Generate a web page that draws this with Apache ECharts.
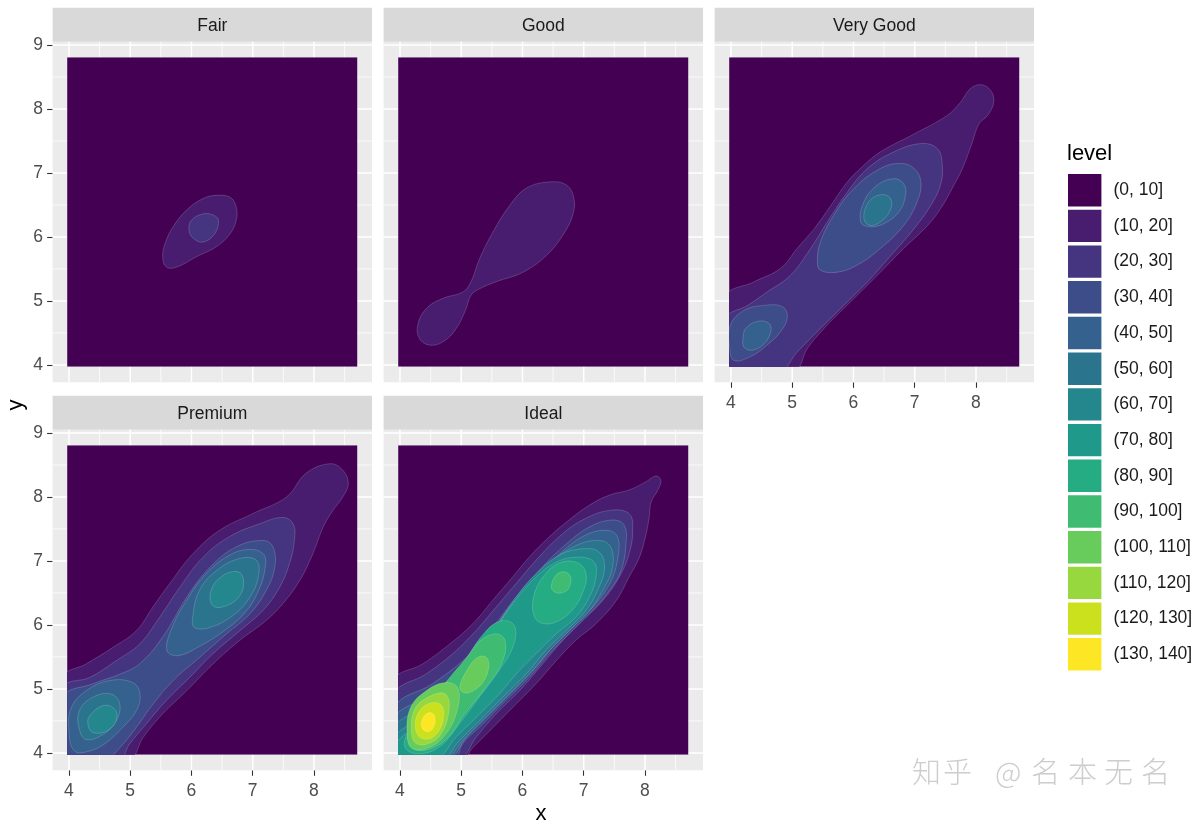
<!DOCTYPE html>
<html><head><meta charset="utf-8">
<script src="https://cdn.jsdelivr.net/npm/echarts@6/dist/echarts.min.js"></script>
<style>html,body{margin:0;padding:0;background:#fff}#chart{width:1200px;height:825px}</style>
</head><body><div id="chart"></div>
<script>
// ---------- data ----------
const levelNames = ['(0, 10]','(10, 20]','(20, 30]','(30, 40]','(40, 50]','(50, 60]','(60, 70]','(70, 80]','(80, 90]','(90, 100]','(100, 110]','(110, 120]','(120, 130]','(130, 140]'];
const levelColors = ['#440154','#481C6E','#453581','#3D4D8A','#34618D','#2B748E','#24878E','#1F998A','#25AC82','#40BC72','#67CC5C','#97D83F','#CBE11E','#FDE725'];
const facetNames = ['Fair','Good','Very Good','Premium','Ideal'];
const xMajor = [4,5,6,7,8];
const xMinor = [4.5,5.5,6.5,7.5,8.5];
const yMajor = [4,5,6,7,8,9];
const yMinor = [4.5,5.5,6.5,7.5,8.5];
const xRange = [3.733, 8.947];
const yRange = [3.728, 9.052];
const densityRect = [[3.97,3.97],[8.71,3.97],[8.71,8.81],[3.97,8.81]];
const watermarkChars = ['知','乎','@','名','本','无','名'];

const fairContours = [
 {level:0, points:densityRect},
 {level:1, points:[[6.63,6.62],[6.73,6.47],[6.73,6.26],[6.63,6.05],[6.41,5.85],[6.08,5.69],[5.76,5.53],[5.59,5.53],[5.53,5.69],[5.57,5.90],[5.70,6.16],[5.92,6.42],[6.19,6.60],[6.41,6.65]]},
 {level:2, points:[[6.44,6.26],[6.38,6.05],[6.19,5.92],[6.03,5.98],[5.96,6.10],[6.00,6.26],[6.19,6.36],[6.36,6.34]]}
];
const goodContours = [
 {level:0, points:densityRect},
 {level:1, points:[[6.44,6.86],[6.72,6.81],[6.84,6.60],[6.82,6.34],[6.66,6.03],[6.39,5.71],[6.01,5.45],[5.57,5.30],[5.30,5.19],[5.16,5.09],[5.08,4.88],[4.92,4.57],[4.70,4.36],[4.48,4.31],[4.32,4.41],[4.29,4.62],[4.43,4.88],[4.70,5.04],[5.03,5.14],[5.16,5.30],[5.30,5.66],[5.52,6.08],[5.79,6.49],[6.06,6.76]]}
];
const veryGoodContours = [
 {level:0, points:densityRect},
 {level:1, points:[[3.9,5.06],[4.38,5.30],[4.81,5.51],[5.08,5.82],[5.36,6.13],[5.63,6.49],[5.90,6.86],[6.17,7.12],[6.44,7.33],[6.99,7.61],[7.53,7.90],[7.75,8.11],[7.91,8.32],[8.08,8.38],[8.24,8.29],[8.29,8.11],[8.19,7.90],[8.05,7.77],[7.94,7.48],[7.78,7.07],[7.64,6.81],[7.42,6.44],[7.21,6.18],[6.82,5.82],[6.44,5.45],[6.17,5.19],[5.84,4.88],[5.52,4.57],[5.25,4.26],[5.03,3.9],[3.6,3.6]]},
 {level:2, points:[[3.9,4.72],[4.27,4.93],[4.59,5.14],[4.97,5.40],[5.30,5.82],[5.57,6.23],[5.90,6.70],[6.23,7.07],[6.66,7.33],[7.10,7.46],[7.37,7.38],[7.45,7.12],[7.42,6.81],[7.26,6.49],[6.99,6.13],[6.61,5.71],[6.23,5.30],[5.84,4.93],[5.46,4.57],[5.08,4.20],[4.81,3.9],[3.6,3.6]]},
 {level:3, points:[[3.99,4.62],[4.21,4.85],[4.54,4.93],[4.84,4.91],[4.92,4.75],[4.81,4.52],[4.59,4.31],[4.32,4.13],[4.05,4.07],[3.98,4.26]]},
 {level:3, points:[[5.41,5.61],[5.46,5.92],[5.68,6.34],[6.01,6.76],[6.44,7.07],[6.77,7.15],[6.99,7.07],[7.10,6.86],[7.04,6.55],[6.82,6.18],[6.44,5.82],[6.06,5.56],[5.74,5.45],[5.46,5.48]]},
 {level:4, points:[[4.24,4.57],[4.43,4.68],[4.62,4.65],[4.65,4.52],[4.54,4.33],[4.35,4.23],[4.21,4.28],[4.20,4.44]]},
 {level:4, points:[[6.12,6.23],[6.17,6.55],[6.39,6.81],[6.66,6.91],[6.82,6.83],[6.85,6.65],[6.74,6.39],[6.50,6.21],[6.28,6.16]]},
 {level:5, points:[[6.17,6.29],[6.25,6.55],[6.44,6.66],[6.60,6.61],[6.61,6.44],[6.47,6.26],[6.28,6.18]]}
];
const premiumContours = [
 {level:0, points:densityRect},
 {level:1, points:[[3.9,5.18],[4.28,5.39],[4.72,5.65],[5.10,5.91],[5.37,6.28],[5.64,6.64],[6.02,7.11],[6.46,7.48],[7.00,7.74],[7.55,8.00],[7.87,8.37],[8.26,8.52],[8.47,8.42],[8.56,8.21],[8.47,8.00],[8.31,7.79],[8.15,7.53],[7.98,7.11],[7.77,6.70],[7.49,6.33],[7.22,6.07],[6.79,5.76],[6.35,5.39],[5.92,4.97],[5.53,4.61],[5.21,4.24],[4.99,3.9],[3.6,3.6]]},
 {level:2, points:[[3.9,5.02],[4.34,5.18],[4.77,5.44],[5.15,5.70],[5.48,6.12],[5.81,6.59],[6.19,7.06],[6.62,7.38],[7.11,7.58],[7.49,7.68],[7.66,7.58],[7.68,7.32],[7.60,6.96],[7.44,6.59],[7.17,6.23],[6.79,5.91],[6.35,5.55],[5.97,5.18],[5.59,4.82],[5.26,4.45],[4.99,4.14],[4.83,3.9],[3.6,3.6]]},
 {level:3, points:[[3.9,4.87],[4.39,5.08],[4.83,5.23],[5.15,5.39],[5.53,5.81],[5.92,6.43],[6.30,6.90],[6.73,7.22],[7.17,7.32],[7.33,7.22],[7.36,6.90],[7.22,6.54],[6.95,6.17],[6.57,5.86],[6.13,5.49],[5.70,5.13],[5.37,4.76],[5.10,4.40],[4.83,4.08],[4.61,3.9],[3.6,3.6]]},
 {level:4, points:[[4.04,4.71],[4.28,4.97],[4.66,5.13],[5.04,5.10],[5.16,4.92],[5.10,4.66],[4.88,4.40],[4.61,4.16],[4.34,4.03],[4.09,4.03],[4.00,4.34]]},
 {level:4, points:[[5.60,5.60],[5.68,5.95],[5.92,6.38],[6.22,6.78],[6.60,7.08],[6.95,7.18],[7.18,7.10],[7.20,6.88],[7.10,6.55],[6.88,6.20],[6.52,5.90],[6.12,5.66],[5.78,5.52]]},
 {level:5, points:[[4.17,4.66],[4.39,4.87],[4.69,4.92],[4.83,4.76],[4.77,4.50],[4.56,4.29],[4.28,4.21],[4.17,4.37]]},
 {level:5, points:[[6.02,6.12],[6.13,6.54],[6.41,6.85],[6.79,7.04],[7.06,7.01],[7.09,6.75],[6.95,6.43],[6.68,6.15],[6.30,5.96],[6.05,5.96]]},
 {level:6, points:[[4.34,4.58],[4.56,4.74],[4.75,4.68],[4.77,4.50],[4.61,4.34],[4.39,4.32],[4.31,4.45]]},
 {level:6, points:[[6.32,6.54],[6.51,6.77],[6.76,6.83],[6.85,6.70],[6.79,6.46],[6.57,6.30],[6.35,6.30]]}
];
const idealContours = [
 {level:0, points:densityRect},
 {level:1, points:[[3.9,5.13],[4.37,5.39],[4.81,5.70],[5.19,6.02],[5.51,6.38],[5.84,6.75],[6.11,7.06],[6.44,7.38],[6.76,7.64],[7.09,7.87],[7.42,8.03],[7.74,8.11],[8.02,8.24],[8.18,8.33],[8.26,8.26],[8.21,8.11],[8.10,7.92],[8.07,7.69],[8.02,7.43],[7.91,7.06],[7.74,6.75],[7.53,6.38],[7.20,6.02],[6.87,5.76],[6.55,5.44],[6.22,5.08],[5.84,4.71],[5.46,4.34],[5.19,4.08],[5.02,3.9],[3.6,3.6]]},
 {level:2, points:[[3.9,4.92],[4.42,5.23],[4.86,5.55],[5.24,5.91],[5.57,6.28],[5.89,6.64],[6.22,7.01],[6.60,7.38],[6.98,7.64],[7.42,7.79],[7.74,7.74],[7.80,7.48],[7.74,7.11],[7.58,6.75],[7.31,6.38],[6.98,6.07],[6.66,5.76],[6.33,5.39],[5.95,4.97],[5.57,4.61],[5.24,4.24],[4.97,3.9],[3.6,3.6]]},
 {level:3, points:[[3.9,4.71],[4.53,5.08],[5.08,5.49],[5.51,5.96],[5.89,6.43],[6.27,6.85],[6.66,7.22],[7.09,7.53],[7.47,7.64],[7.66,7.56],[7.69,7.27],[7.61,6.85],[7.42,6.54],[7.09,6.17],[6.76,5.86],[6.44,5.55],[6.11,5.18],[5.73,4.82],[5.35,4.45],[5.02,4.14],[4.89,3.9],[3.6,3.6]]},
 {level:4, points:[[3.9,4.55],[4.42,4.87],[4.97,5.29],[5.40,5.76],[5.79,6.28],[6.17,6.70],[6.55,7.06],[6.98,7.38],[7.36,7.48],[7.55,7.38],[7.55,7.01],[7.42,6.64],[7.15,6.28],[6.82,5.96],[6.49,5.65],[6.17,5.29],[5.79,4.92],[5.40,4.55],[5.08,4.24],[4.80,3.9],[3.6,3.6]]},
 {level:5, points:[[3.9,4.40],[4.37,4.71],[4.91,5.13],[5.35,5.65],[5.68,6.12],[6.06,6.59],[6.44,6.96],[6.87,7.24],[7.25,7.32],[7.44,7.22],[7.47,6.90],[7.34,6.59],[7.09,6.22],[6.76,5.91],[6.44,5.60],[6.11,5.23],[5.73,4.87],[5.35,4.50],[5.02,4.19],[4.75,3.9],[3.6,3.6]]},
 {level:6, points:[[3.9,4.24],[4.32,4.55],[4.81,4.97],[5.24,5.44],[5.57,5.96],[5.89,6.43],[6.22,6.80],[6.60,7.09],[6.98,7.19],[7.25,7.14],[7.34,6.90],[7.25,6.59],[7.03,6.22],[6.71,5.91],[6.38,5.60],[6.06,5.23],[5.68,4.87],[5.30,4.50],[4.97,4.19],[4.70,3.9],[3.6,3.6]]},
 {level:7, points:[[3.9,4.12],[4.37,4.50],[4.81,4.87],[5.19,5.34],[5.51,5.86],[5.84,6.33],[6.17,6.70],[6.55,6.98],[6.93,7.06],[7.17,6.98],[7.20,6.75],[7.09,6.43],[6.87,6.12],[6.55,5.86],[6.22,5.55],[5.95,5.29],[5.62,4.92],[5.24,4.55],[4.91,4.24],[4.60,3.9],[3.6,3.6]]},
 {level:8, points:[[4.08,4.20],[4.32,4.60],[4.74,5.00],[5.06,5.44],[5.38,5.88],[5.64,6.06],[5.86,6.00],[5.86,5.70],[5.62,5.29],[5.28,4.85],[4.96,4.44],[4.68,4.12],[4.37,3.99],[4.12,4.04]]},
 {level:8, points:[[6.18,6.43],[6.36,6.78],[6.64,6.98],[6.92,6.96],[7.04,6.78],[6.98,6.50],[6.82,6.24],[6.58,6.06],[6.35,6.02],[6.20,6.12]]},
 {level:9, points:[[4.14,4.28],[4.44,4.72],[4.78,5.14],[5.08,5.48],[5.32,5.76],[5.58,5.86],[5.72,5.74],[5.66,5.40],[5.38,5.00],[5.05,4.60],[4.76,4.22],[4.45,4.05],[4.20,4.08]]},
 {level:9, points:[[6.47,6.60],[6.55,6.78],[6.68,6.83],[6.78,6.76],[6.76,6.58],[6.64,6.50],[6.52,6.52]]},
 {level:10, points:[[4.12,4.26],[4.17,4.70],[4.44,4.98],[4.76,5.10],[4.95,5.00],[4.92,4.62],[4.72,4.26],[4.46,4.08],[4.20,4.07]]},
 {level:10, points:[[4.98,5.05],[5.10,5.30],[5.25,5.48],[5.40,5.50],[5.45,5.35],[5.35,5.10],[5.15,4.95],[5.02,4.95]]},
 {level:11, points:[[4.19,4.31],[4.24,4.68],[4.48,4.88],[4.74,4.92],[4.80,4.66],[4.66,4.28],[4.45,4.14],[4.26,4.15]]},
 {level:12, points:[[4.26,4.35],[4.30,4.63],[4.50,4.78],[4.68,4.74],[4.70,4.50],[4.57,4.27],[4.38,4.22]]},
 {level:13, points:[[4.35,4.41],[4.39,4.57],[4.50,4.63],[4.57,4.56],[4.55,4.40],[4.45,4.33]]}
];
const facetContours = [fairContours, goodContours, veryGoodContours, premiumContours, idealContours];

// ---------- layout ----------
const panels = [
 {left:52.6, top:41.7, xLab:false, yLab:true},
 {left:383.6, top:41.7, xLab:false, yLab:false},
 {left:714.6, top:41.7, xLab:true, yLab:false},
 {left:52.6, top:429.7, xLab:true, yLab:true},
 {left:383.6, top:429.7, xLab:true, yLab:false}
];
const PW = 319.4, PH = 340.6, STRIP = 34;
const FONT = 'Liberation Sans, Arial, Helvetica, sans-serif';

const grids = [], xAxes = [], yAxes = [], series = [], graphics = [];
const gridLineItems = [
 ...xMajor.map(v => [v, 0, 1]), ...xMinor.map(v => [v, 0, 0]),
 ...yMajor.map(v => [v, 1, 1]), ...yMinor.map(v => [v, 1, 0])
];

panels.forEach((p, i) => {
  grids.push({left:p.left, top:p.top, width:PW, height:PH, show:true, backgroundColor:'#EBEBEB', borderWidth:0, containLabel:false});
  xAxes.push({gridIndex:i, type:'value', min:xRange[0], max:xRange[1],
    axisLine:{show:false}, splitLine:{show:false},
    axisTick:{show:p.xLab, length:5.5, customValues:xMajor, lineStyle:{color:'#333333', width:1.1}},
    axisLabel:{show:p.xLab, customValues:xMajor, margin:12, color:'#4D4D4D', fontSize:17.5, fontFamily:FONT}});
  yAxes.push({gridIndex:i, type:'value', min:yRange[0], max:yRange[1],
    axisLine:{show:false}, splitLine:{show:false},
    axisTick:{show:p.yLab, length:5.5, customValues:yMajor, lineStyle:{color:'#333333', width:1.1}},
    axisLabel:{show:p.yLab, customValues:yMajor, margin:9.5, color:'#4D4D4D', fontSize:17.5, fontFamily:FONT}});
  // grid lines
  series.push({type:'custom', xAxisIndex:i, yAxisIndex:i, silent:true, animation:false, clip:false,
    data: gridLineItems,
    renderItem(params, api){
      const v = api.value(0), dir = api.value(1), major = api.value(2);
      const a = dir === 0 ? api.coord([v, yRange[0]]) : api.coord([xRange[0], v]);
      const b = dir === 0 ? api.coord([v, yRange[1]]) : api.coord([xRange[1], v]);
      return {type:'line', shape:{x1:a[0], y1:a[1], x2:b[0], y2:b[1]}, style:{stroke:'#FFFFFF', lineWidth: major ? 1.5 : 0.75}};
    }});
  // contours
  const contours = facetContours[i];
  series.push({type:'custom', xAxisIndex:i, yAxisIndex:i, silent:true, animation:false, clip:false,
    data: contours.map((c, k) => [c.points[0][0], c.points[0][1], k]),
    renderItem(params, api){
      const c = contours[params.dataIndex];
      const tl = api.coord([densityRect[0][0], densityRect[2][1]]);
      const br = api.coord([densityRect[1][0], densityRect[0][1]]);
      return {
        type:'polygon',
        shape:{points: c.points.map(pt => api.coord(pt)), smooth: c.level === 0 ? 0 : 0.4},
        style:{fill: levelColors[c.level], stroke: c.level === 0 ? 'none' : 'rgba(255,255,255,0.22)', lineWidth: 0.8},
        clipPath:{type:'rect', shape:{x:tl[0], y:tl[1], width:br[0]-tl[0], height:br[1]-tl[1]}}
      };
    }});
  // strip
  graphics.push({type:'rect', left:p.left, top:p.top - STRIP, shape:{width:PW, height:STRIP}, style:{fill:'#D9D9D9'}, silent:true});
  graphics.push({type:'text', x:p.left + PW/2, y:p.top - STRIP/2 + 1.5, style:{text:facetNames[i], fill:'#1A1A1A', font:'17.5px ' + FONT, textAlign:'center', textVerticalAlign:'middle'}, silent:true});
});

// legend-only series
levelNames.forEach((n, i) => {
  series.push({type:'scatter', name:n, xAxisIndex:0, yAxisIndex:0, data:[], itemStyle:{color:levelColors[i], opacity:1}});
});

graphics.push({type:'text', x:541, y:814, style:{text:'x', fill:'#000', font:'22px ' + FONT, textAlign:'center', textVerticalAlign:'middle'}, silent:true});
graphics.push({type:'text', x:16, y:405, rotation:Math.PI/2, style:{text:'y', fill:'#000', font:'22px ' + FONT, textAlign:'center', textVerticalAlign:'middle'}, silent:true});
graphics.push({type:'text', x:1067, y:154, style:{text:'level', fill:'#000', font:'22px ' + FONT, textAlign:'left', textVerticalAlign:'middle'}, silent:true});
// watermark
const wmX = [912, 943, 995, 1031, 1068, 1104, 1141];
watermarkChars.forEach((ch, k) => {
  graphics.push({type:'text', x:wmX[k], y:772, style:{text:ch, fill:'#CDCDCD', font:'300 29px "Noto Sans CJK SC", sans-serif', textAlign:'left', textVerticalAlign:'middle',
    textShadowColor:'rgba(100,100,100,0.4)', textShadowOffsetX:1, textShadowOffsetY:1, textShadowBlur:0}, silent:true});
});

const chart = echarts.init(document.getElementById('chart'), null, {renderer:'canvas'});
chart.setOption({
  animation:false,
  backgroundColor:'#FFFFFF',
  grid:grids, xAxis:xAxes, yAxis:yAxes, series:series,
  legend:{orient:'vertical', left:1068, top:174, padding:0, itemWidth:33.4, itemHeight:32.4, itemGap:3.3, icon:'rect',
    selectedMode:false, data:levelNames, itemStyle:{opacity:1},
    textStyle:{fontSize:17.5, color:'#1A1A1A', fontFamily:FONT, padding:[0,0,0,7]}},
  graphic:graphics
});
</script></body></html>
